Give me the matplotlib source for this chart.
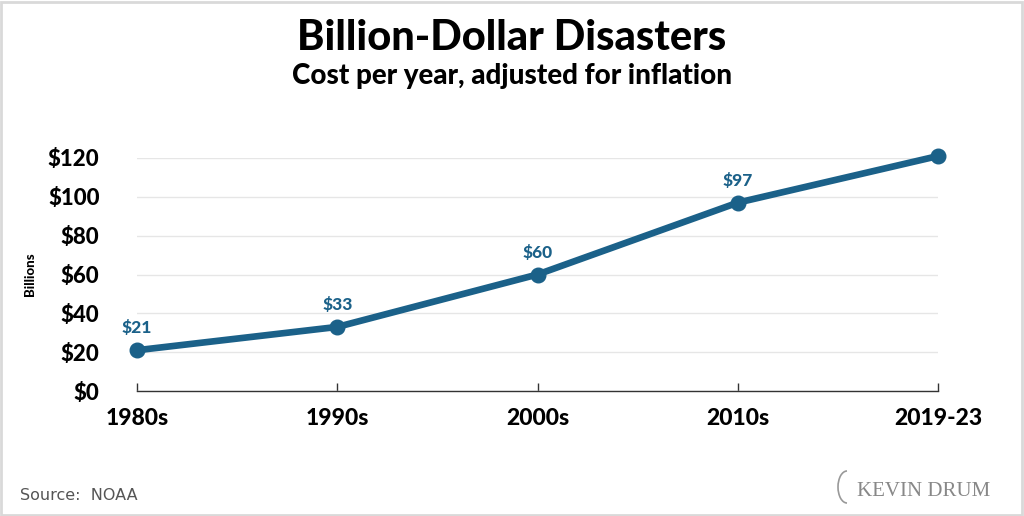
import matplotlib.pyplot as plt
from matplotlib.patches import Rectangle, Arc

plt.rcParams["font.family"] = ["Lato", "DejaVu Sans"]

decades = ["1980s", "1990s", "2000s", "2010s", "2019-23"]
cost = [21, 33, 60, 97, 121]
y_ticks = [0, 20, 40, 60, 80, 100, 120]

LINE = "#1b6189"

fig = plt.figure(figsize=(10.24, 5.16), dpi=100)
ax = fig.add_axes([137 / 1024, 1 - 391 / 516, (938 - 137) / 1024, (391 - 158) / 516])

x = list(range(len(decades)))
ax.plot(x, cost, color=LINE, lw=4.8, marker="o", ms=10.5, clip_on=False, zorder=3)
for xi, v in zip(x, cost):
    ax.annotate(f"${v}", (xi, v), xytext=(0, 10), textcoords="offset points",
                ha="center", va="bottom", fontsize=12.5, fontweight="black", color=LINE)

ax.set_xlim(0, len(decades) - 1)
ax.set_ylim(0, 120)
ax.set_yticks(y_ticks)
ax.set_yticklabels([f"${t}" for t in y_ticks], fontsize=16, fontweight="black")
ax.set_xticks(x)
ax.set_xticklabels(decades, fontsize=16.5, fontweight="black")
ax.tick_params(axis="y", length=0, pad=27)
ax.tick_params(axis="x", direction="in", length=6, width=1, color="#333333", pad=12)
ax.grid(axis="y", color="#e6e6e6", lw=1)
ax.set_axisbelow(True)
for s in ["top", "right", "left"]:
    ax.spines[s].set_visible(False)
ax.spines["bottom"].set_color("#333333")
ax.spines["bottom"].set_linewidth(1)
ax.set_ylabel("Billions", fontsize=9.5, fontweight="black")
ax.yaxis.set_label_coords(-0.126, 0.5)

fig.text(0.5, 1 - 38 / 516, "Billion-Dollar Disasters", ha="center", va="center",
         fontsize=30, fontweight="black")
fig.text(0.5, 1 - 76 / 516, "Cost per year, adjusted for inflation", ha="center", va="center",
         fontsize=20, fontweight="black")
fig.text(20 / 1024, 1 - 495 / 516, "Source:  NOAA", ha="left", va="center",
         fontsize=11.5, color="#555555", family="DejaVu Sans")
fig.text(990 / 1024, 1 - 492 / 516, "KEVIN DRUM", ha="right", va="center",
         fontsize=15, color="#888888", family="Liberation Serif")
fig.add_artist(Arc((847 / 1024, 1 - 487 / 516), 18 / 1024, 32 / 516, theta1=90, theta2=270,
                   transform=fig.transFigure, color="#999999", lw=1.2))

fig.add_artist(Rectangle((0.001, 0.002), 0.997, 0.995, transform=fig.transFigure,
                         fill=False, edgecolor="#d9d9d9", lw=2))

fig.savefig("out.png", dpi=100)
